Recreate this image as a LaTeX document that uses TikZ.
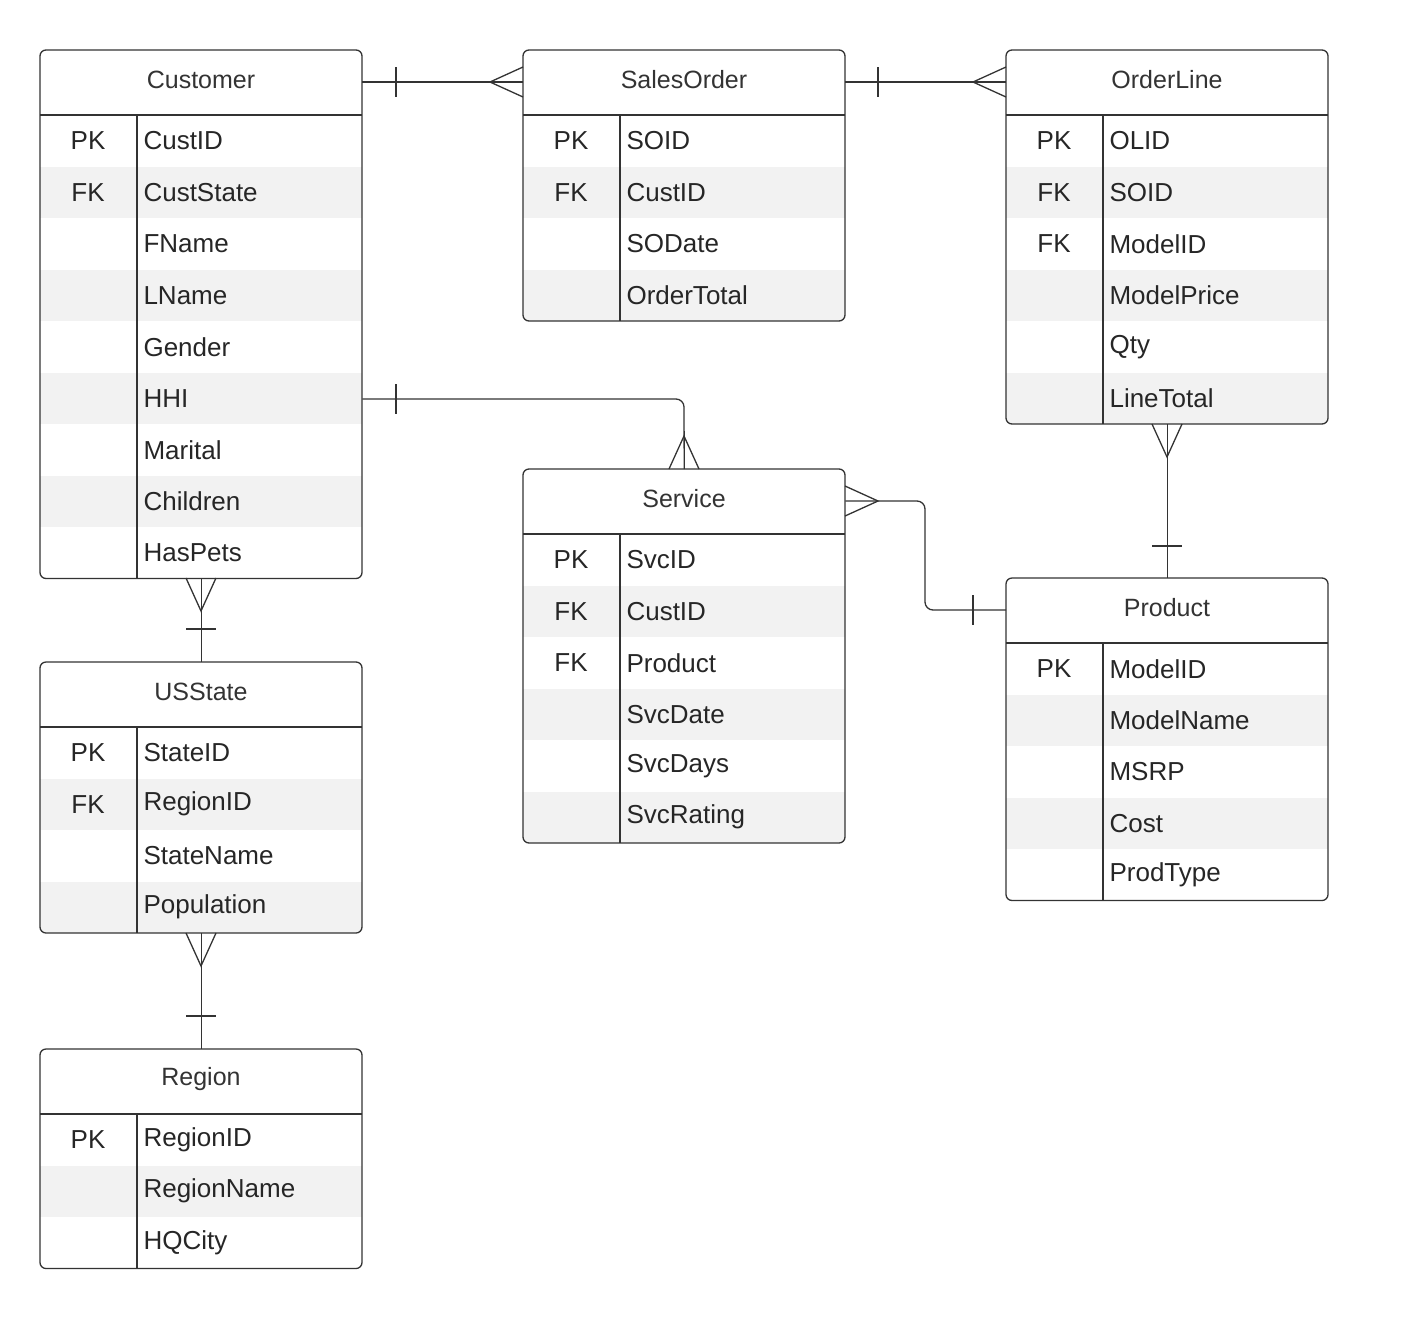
\documentclass[tikz,border=0pt]{standalone}
\usepackage{fontspec}
\setmainfont{Liberation Sans}
\definecolor{ln}{HTML}{333333}
\definecolor{sh}{HTML}{F2F2F2}
\tikzset{x=1pt,y=-1pt,
  conn/.style={draw=ln,line width=1.3pt,rounded corners=8},
  tbl/.style={draw=ln,line width=1.3pt},
  ttl/.style={font=\fontsize{25}{28}\selectfont,text=ln},
  cell/.style={font=\fontsize{26}{30}\selectfont,text=black!85}}
\newcommand\ertable[6]{%
  \pgfmathsetmacro\yb{#3+65+51.5*#4}
  \pgfmathsetmacro\hh{65+51.5*#4}
  \begin{scope}
  \clip[rounded corners=6] (#2,#3) rectangle (#2+322,\yb);
  \foreach \k/\v [count=\i] in {#6}{
    \pgfmathsetmacro\yy{#3+65+51.5*(\i-1)}
    \ifodd\i\else\fill[sh] (#2,\yy) rectangle (#2+322,\yy+51.5);\fi
    \node[cell,anchor=center] at (#2+48,\yy+25.75) {\k};
    \node[cell,anchor=west] at (#2+100,\yy+25.75) {\v};
  }
  \end{scope}
  \node[inner sep=0,minimum width=322pt,minimum height=\hh pt,anchor=north west] (#1) at (#2,#3) {};
  \draw[tbl,rounded corners=6] (#2,#3) rectangle (#2+322,\yb);
  \draw[tbl] (#2,#3+65) -- (#2+322,#3+65);
  \draw[tbl] (#2+97,#3+65) -- (#2+97,\yb);
  \node[ttl] at (#2+161,#3+30) {#5};
}
\begin{document}
\begin{tikzpicture}
\useasboundingbox (0,0) rectangle (1408,1334);
\ertable{cust}{40}{50}{9}{Customer}{PK/CustID,FK/CustState,{}/FName,{}/LName,{}/Gender,{}/HHI,{}/Marital,{}/Children,{}/HasPets}
\ertable{so}{523}{50}{4}{SalesOrder}{PK/SOID,FK/CustID,{}/SODate,{}/OrderTotal}
\ertable{ol}{1006}{50}{6}{OrderLine}{PK/OLID,FK/SOID,FK/ModelID,{}/ModelPrice,{}/Qty,{}/LineTotal}
\ertable{svc}{523}{469}{6}{Service}{PK/SvcID,FK/CustID,FK/Product,{}/SvcDate,{}/SvcDays,{}/SvcRating}
\ertable{prod}{1006}{578}{5}{Product}{PK/ModelID,{}/ModelName,{}/MSRP,{}/Cost,{}/ProdType}
\ertable{us}{40}{662}{4}{USState}{PK/StateID,FK/RegionID,{}/StateName,{}/Population}
\ertable{reg}{40}{1049}{3}{Region}{PK/RegionID,{}/RegionName,{}/HQCity}
% Customer - SalesOrder
\draw[conn] (cust.east|-0,82) -- (so.west|-0,82);
\draw[conn] (396,67)--(396,97);
\draw[conn,rounded corners=0] (523,67)--(490,82)--(523,97);
% SalesOrder - OrderLine
\draw[conn] (so.east|-0,82) -- (ol.west|-0,82);
\draw[conn] (878,67)--(878,97);
\draw[conn,rounded corners=0] (1006,67)--(973,82)--(1006,97);
% Customer - Service
\draw[conn] (cust.east|-0,399) -- (684,399) -- (svc.north);
\draw[conn] (396,384)--(396,414);
\draw[conn,rounded corners=0] (669,469)--(684,436)--(699,469);
% Service - Product
\draw[conn] (svc.east|-0,501) -- (925,501) -- (925,610) -- (prod.west|-0,610);
\draw[conn,rounded corners=0] (845,486)--(878,501)--(845,516);
\draw[conn] (973,595)--(973,625);
% OrderLine - Product
\draw[conn] (ol.south) -- (prod.north);
\draw[conn,rounded corners=0] (1152,424)--(1167,457)--(1182,424);
\draw[conn] (1152,546)--(1182,546);
% Customer - USState
\draw[conn] (cust.south) -- (us.north);
\draw[conn,rounded corners=0] (186,578)--(201,611)--(216,578);
\draw[conn] (186,629)--(216,629);
% USState - Region
\draw[conn] (us.south) -- (reg.north);
\draw[conn,rounded corners=0] (186,933)--(201,966)--(216,933);
\draw[conn] (186,1016)--(216,1016);
\end{tikzpicture}
\end{document}
